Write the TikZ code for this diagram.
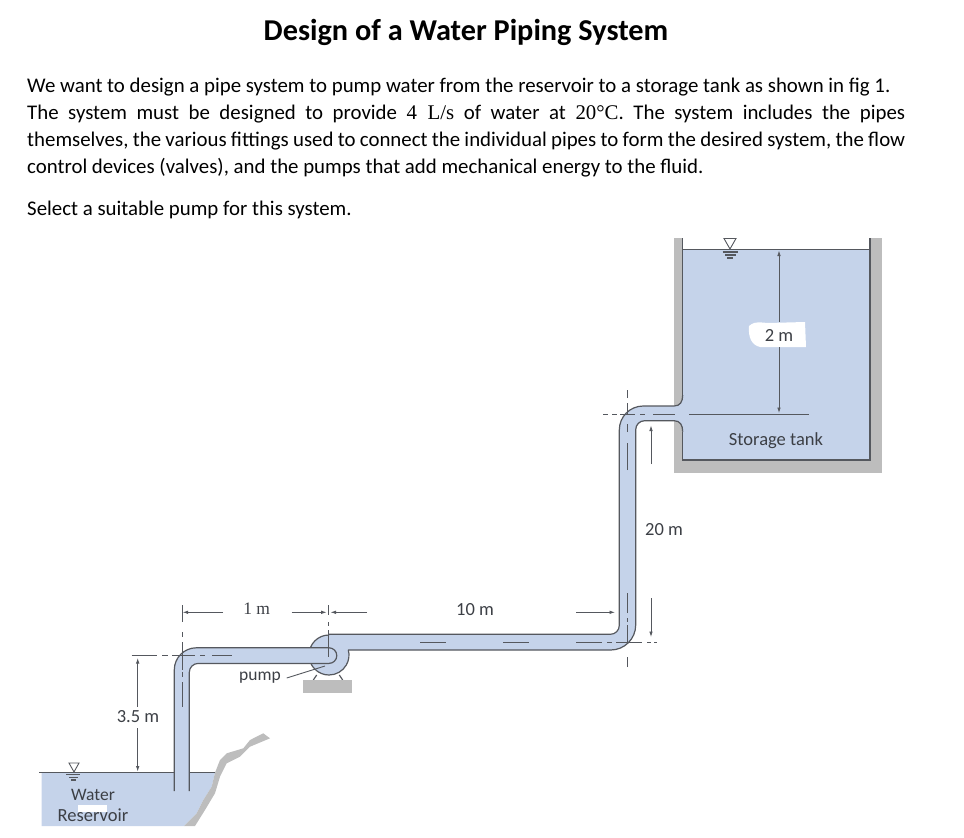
\documentclass[tikz,border=0pt]{standalone}
\usepackage{fontspec}
\setmainfont{Carlito}
\newfontfamily\unitfont{Liberation Serif}
\usepackage{xcolor}
\usetikzlibrary{arrows.meta}
\definecolor{watercol}{HTML}{C5D3EA}
\definecolor{wallcol}{HTML}{BDBDBD}
\definecolor{linecol}{HTML}{55585E}
\definecolor{labelcol}{HTML}{3C3F45}

\begin{document}
\begin{tikzpicture}[
		x=1pt,y=-1pt,
		WaterFill/.style={fill=watercol,draw=none},
		WallFill/.style={fill=wallcol,draw=none},
		PipeLines/.style={draw=linecol,line width=1.2pt},
		CenterLines/.style={draw=linecol,line width=0.9pt},
		DimArrows/.style={draw=linecol,line width=0.8pt,-{Latex[length=5.5pt, width=3.6pt]}},
		BodyText/.style={anchor=base west,inner sep=0pt,font=\fontsize{20.85}{24}\selectfont},
		Labels/.style={inner sep=0pt,yshift=-1pt,text=labelcol,font=\fontsize{18.5}{22}\selectfont}
		]

		\useasboundingbox (0,0) rectangle (964,838);

		% text above the figure
		\node[anchor=base,inner sep=0pt,font=\fontsize{30.3}{36}\selectfont\bfseries] (title) at (466,40) {Design of a Water Piping System};
		\node[BodyText] (lineA) at (27,92) {We want to design a pipe system to pump water from the reservoir to a storage tank as shown in fig 1.};
		\node[BodyText] (lineB) at (27,119) {\hbox to 878pt{The system must be designed to provide {\unitfont 4 L/s} of water at {\unitfont 20°C}. The system includes the pipes}};
		\node[BodyText] (lineC) at (27,146) {\hbox to 878pt{themselves, the various fittings used to connect the individual pipes to form the desired system, the flow}};
		\node[BodyText] (lineD) at (27,173) {control devices (valves), and the pumps that add mechanical energy to the fluid.};
		\node[BodyText] (lineE) at (27,215) {Select a suitable pump for this system.};

		% storage tank
		\fill[WallFill] (674,238) rectangle (882,473);
		\fill[white] (682.7,238) rectangle (870,249.3);
		\fill[WaterFill] (682.7,249.3) rectangle (870,460);
		\draw[PipeLines] (682.7,238)--(682.7,395);
		\draw[PipeLines] (682.7,431.7)--(682.7,460)--(870,460)--(870,238);
		\draw[PipeLines] (682.7,249.3)--(870,249.3);

		% pipe between pump and tank
		\fill[WaterFill] (329,634.3) -- (610.3,634.3) .. controls (615.3,634.3) and (619.3,630.3) .. (619.3,625.3)
			-- (619.3,430) .. controls (619.3,416.8) and (629.8,406) .. (643.3,406) -- (674,406)
			.. controls (680,406) and (682.7,402) .. (682.7,395) -- (690,395) -- (690,431.7) -- (682.7,431.7)
			.. controls (682.7,425) and (680,420.7) .. (674,420.7) -- (644.7,420.7)
			.. controls (639.7,420.7) and (635.7,424.7) .. (635.7,429.7) -- (635.7,625)
			.. controls (635.7,638.8) and (624.5,650) .. (610.7,650) -- (329,650) -- cycle;
		\draw[PipeLines] (329,634.3) -- (610.3,634.3) .. controls (615.3,634.3) and (619.3,630.3) .. (619.3,625.3)
			-- (619.3,430) .. controls (619.3,416.8) and (629.8,406) .. (643.3,406) -- (674,406)
			.. controls (680,406) and (682.7,402) .. (682.7,395);
		\draw[PipeLines] (348,650) -- (610.7,650) .. controls (624.5,650) and (635.7,638.8) .. (635.7,625)
			-- (635.7,429.7) .. controls (635.7,424.7) and (639.7,420.7) .. (644.7,420.7) -- (674,420.7)
			.. controls (680,420.7) and (682.7,425) .. (682.7,431.7);

		% pump and its base
		\fill[WaterFill] (329,655) circle (20pt);
		\draw[PipeLines] (329,635) arc[start angle=-90,end angle=-375,radius=20];
		\draw[PipeLines] (316.7,675)--(313.3,680);
		\draw[PipeLines] (339.3,675)--(342.7,680);
		\fill[WallFill] (303.3,680) rectangle (352.3,693.3);

		% reservoir
		\fill[WaterFill] (41.7,772.7) -- (215,772.7) -- (211.7,786.7) -- (203.3,800) -- (196.7,813.3) -- (184,826) -- (41.7,826) -- cycle;
		\fill[WallFill] (184,826) -- (195,826) -- (205,810) -- (215,793.3) -- (220,776.7) -- (226.7,763.3) -- (240,756.7) -- (250,746.7) -- (270,738.3)
			-- (263.3,733.3) -- (250,740) -- (243.3,748.3) -- (226.7,753.3) -- (220,760) -- (215,772.7) -- (211.7,786.7) -- (203.3,800) -- (196.7,813.3) -- cycle;
		\draw[PipeLines] (39.3,772.7)--(174.3,772.7);
		\draw[PipeLines] (189.3,772.7)--(215,772.7);

		% pipe between reservoir and pump
		\fill[WaterFill] (174.3,791) -- (174.3,669.8) .. controls (174.3,657.7) and (184.2,647.8) .. (196.3,647.8) -- (329,647.8)
			arc[start angle=-90,end angle=90,radius=7.8] -- (198.3,663.4) .. controls (193.3,663.4) and (189.3,667.4) .. (189.3,672.4) -- (189.3,791) -- cycle;
		\draw[PipeLines] (174.3,791) -- (174.3,669.8) .. controls (174.3,657.7) and (184.2,647.8) .. (196.3,647.8) -- (329,647.8)
			arc[start angle=-90,end angle=90,radius=7.8] -- (198.3,663.4) .. controls (193.3,663.4) and (189.3,667.4) .. (189.3,672.4) -- (189.3,791);

		% center lines
		\draw[CenterLines] (420,642)--(446,642) (503,642)--(529,642) (576,642)--(602,642) (607,642)--(612,642) (616,642)--(642,642) (647,642)--(651,642) (654,642)--(657,642);
		\draw[CenterLines] (627,667)--(627,657) (627,643)--(627,625) (627,622)--(627,618) (627,613)--(627,593);
		\draw[CenterLines] (627,470)--(627,443) (627,432)--(627,424) (627,414)--(627,403) (627,398)--(627,390);
		\draw[CenterLines] (603,414)--(608,414) (612,414)--(617,414) (620,414)--(635,414) (640,414)--(645,414) (653,414)--(675,414);
		\draw[CenterLines] (689.3,414)--(809,414);
		\draw[CenterLines] (131.7,655.7)--(157,655.7) (162,655.7)--(168,655.7) (172,655.7)--(195,655.7) (200,655.7)--(205,655.7) (212,655.7)--(232,655.7);
		\draw[CenterLines] (182.7,605)--(182.7,622) (182.7,632)--(182.7,637) (182.7,642)--(182.7,670) (182.7,672)--(182.7,677) (182.7,682)--(182.7,707);
		\draw[CenterLines] (328.3,605)--(328.3,615) (328.3,622)--(328.3,626) (328.3,630)--(328.3,657);

		% dimensions
		\coordinate (onemLeft) at (182.7,612.3);
		\coordinate (onemRight) at (326.6,612.3);
		\coordinate (tenmLeft) at (330.5,612.3);
		\coordinate (tenmRight) at (615,612.3);
		\node[Labels,font=\unitfont\fontsize{17.5}{20}\selectfont] (onem) at (256.7,608) {1 m};
		\node[Labels] (tenm) at (475,609) {10 m};
		\draw[DimArrows] (223,612.3)--(onemLeft);
		\draw[DimArrows] (291.7,612.3)--(onemRight);
		\draw[DimArrows] (367,612.3)--(tenmLeft);
		\draw[DimArrows] (576,612.3)--(tenmRight);

		\node[Labels] (twentym) at (664,529) {20 m};
		\draw[DimArrows] (651,464)--(651,425.5);
		\draw[DimArrows] (651,598)--(651,637);

		\node[Labels] (threem) at (138,716) {3.5 m};
		\draw[DimArrows] (137.7,706.7)--(137.7,658);
		\draw[DimArrows] (137.7,728)--(137.7,771.5);

		\draw[DimArrows] (779,300)--(779,250.5);
		\draw[DimArrows] (779,360)--(779,413);
		\fill[white] (749,326) .. controls (756,320) and (762,323) .. (768,323) -- (805,322) -- (806,347) -- (760,347) .. controls (752,345) and (748,338) .. cycle;
		\draw[draw=linecol,line width=0.8pt] (779,300)--(779,322) (779,347)--(779,360);
		\node[Labels] (twom) at (779,334) {2 m};

		% surface marks
		\draw[PipeLines,line width=0.9pt,fill=white] (724,238.5)--(736,238.5)--(730,249)--cycle;
		\draw[PipeLines,line width=1.6pt] (722.7,251.7)--(738,251.7) (725,255)--(736,255) (727,258)--(733,258);
		\draw[PipeLines,line width=0.9pt,fill=white] (69,763)--(79,763)--(74,772)--cycle;
		\draw[PipeLines,line width=1.6pt] (66,774.5)--(80,774.5) (69,777.5)--(78,777.5) (71,780)--(76,780);

		% pump leader and labels
		\draw[draw=linecol,line width=0.9pt] (286.7,678)--(325,666);
		\node[Labels,font=\fontsize{17.5}{20}\selectfont] (pump) at (260,677) {pump};
		\fill[white] (78,805) rectangle (107,812);
		\node[Labels,font=\fontsize{17.5}{20}\selectfont] (water) at (93,794) {Water};
		\node[Labels] (reservoir) at (93,814) {Reservoir};
		\node[Labels] (storage) at (776,439.5) {Storage tank};

		\end{tikzpicture}
\end{document}
